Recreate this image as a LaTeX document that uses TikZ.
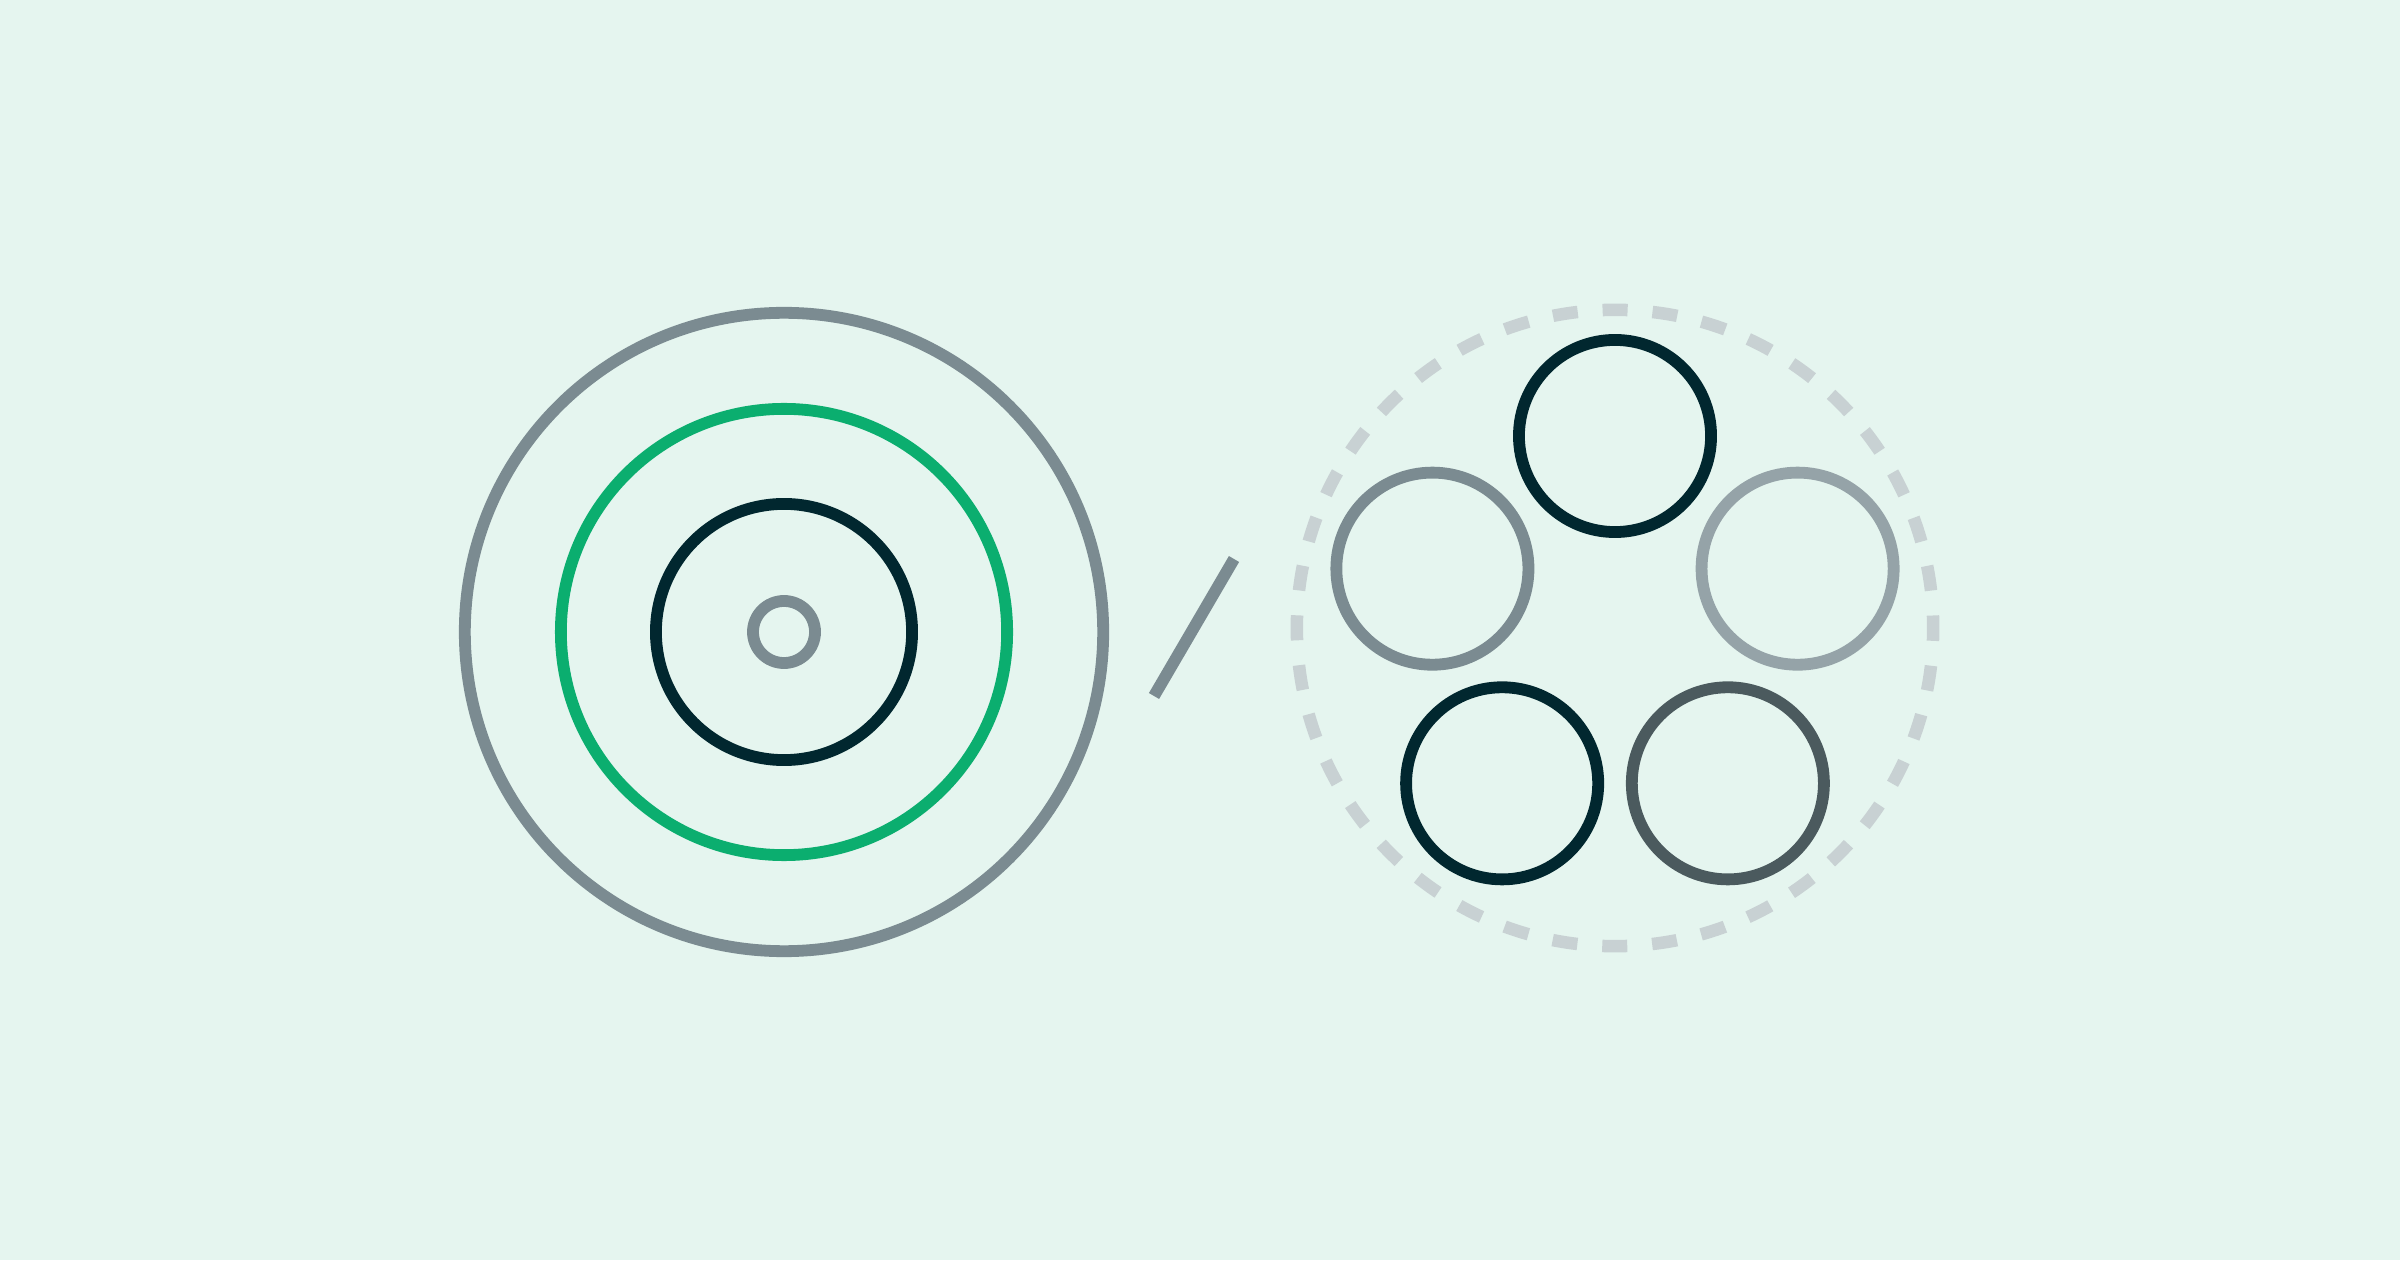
\documentclass[tikz,border=0pt]{standalone}
\usepackage{xcolor}
\definecolor{mint}{HTML}{E5F5EF}
\definecolor{ink}{HTML}{01272F}
\definecolor{slate}{HTML}{7B8B91}
\definecolor{mist}{HTML}{95A3A8}
\definecolor{charcoal}{HTML}{4B5A5E}
\definecolor{leaf}{HTML}{0BAE6F}
\definecolor{haze}{HTML}{C8D1D3}

\begin{document}
\begin{tikzpicture}[x=0.01cm,y=0.01cm,
  ring/.style={circle,draw,line width=0.118cm,inner sep=0pt,outer sep=0pt},
  rim node/.style={circle,draw=haze,line width=0.125cm,inner sep=0pt,
    dash pattern=on 0.25cm off 0.2495cm,dash phase=0.125cm}]
  \fill[mint] (0,0) rectangle (2400,1260);

  % target rings
  \node[ring,draw=slate,minimum size=6.38cm] (1) at (784,628) {};
  \node[ring,draw=leaf,minimum size=4.46cm] (2) at (1.center) {};
  \node[ring,draw=ink,minimum size=2.56cm] (3) at (1.center) {};
  \node[ring,draw=slate,minimum size=0.62cm] (4) at (1.center) {};

  % slash
  \coordinate (s1) at (1154,564);
  \coordinate (s2) at (1234,701);
  \draw[slate,line width=0.118cm] (s1) -- (s2);

  % dashed rim with five pods
  \node[rim node,minimum size=6.36cm] (rim) at (1615,632) {};
  \foreach \ang/\col [count=\i] in {90/ink,162/slate,18/mist,234/ink,306/charcoal}
    \node[ring,draw=\col,minimum size=1.92cm] (pod\i) at ([shift={(\ang:192)}]rim.center) {};
\end{tikzpicture}
\end{document}
